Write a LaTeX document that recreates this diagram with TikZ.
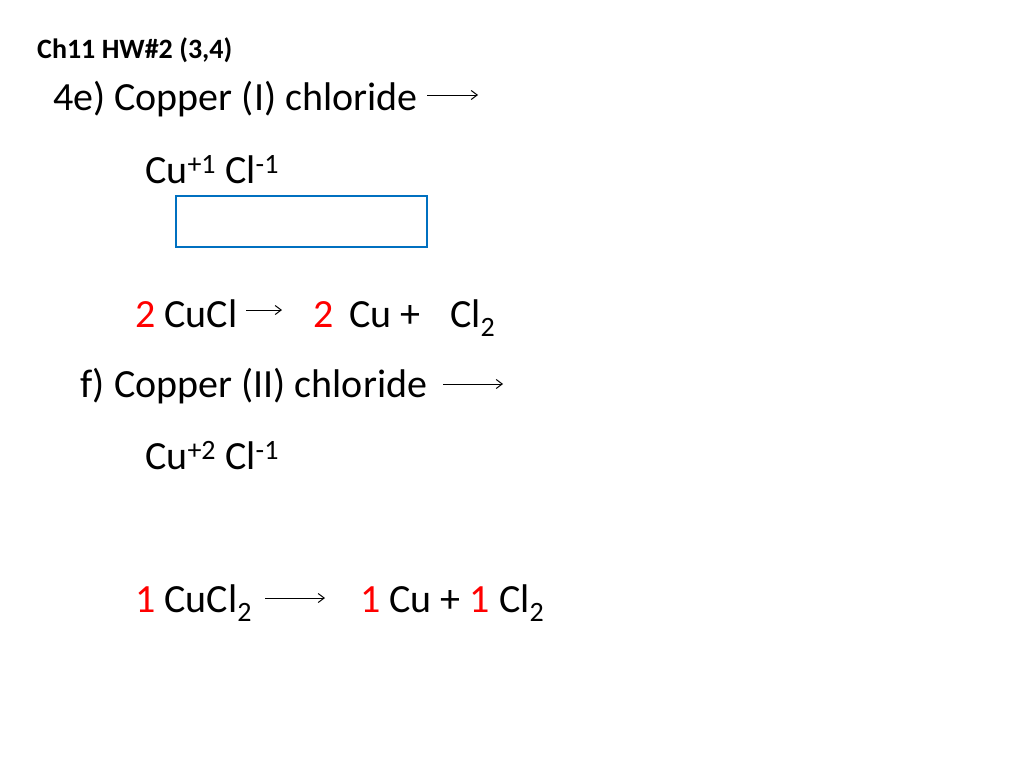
\documentclass[tikz,border=0pt]{standalone}
\usepackage{fontspec}
\setmainfont{Carlito}
\usetikzlibrary{arrows.meta}
\definecolor{myred}{RGB}{255,0,0}
\definecolor{myblue}{RGB}{0,112,192}
\begin{document}
\begin{tikzpicture}[x=1pt,y=-1pt,
  txt/.style={anchor=base west,inner sep=0pt,font=\fontsize{40}{46}\selectfont},
  arr/.style={-{Straight Barb[length=6pt,width=9pt]},line width=1pt}]
\useasboundingbox (0,0) rectangle (1024,768);
\node[anchor=base west,inner sep=0pt,font=\fontsize{28}{32}\selectfont\bfseries] (t) at (37,59) {Ch11 HW\#2 (3,4)};
\node[txt] (a) at (53,110) {4e) Copper (I) chloride};
\coordinate (a1) at (427,95); \coordinate (a2) at (478,95);
\draw[arr] (a1) -- (a2);
\node[txt] (b) at (145,183) {Cu\textsuperscript{+1} Cl\textsuperscript{-1}};
\draw[myblue,line width=2.5pt] (176,196) rectangle (427,247);
\node[txt] (c) at (135,327) {\textcolor{myred}{2} CuCl};
\coordinate (c1) at (246,310); \coordinate (c2) at (282,310);
\draw[arr] (c1) -- (c2);
\node[txt] (d) at (313,327) {\textcolor{myred}{2}\, Cu +};
\node[txt] (d2) at (450,327) {Cl\textsubscript{2}};
\node[txt] (e) at (80,397) {f) Copper (II) chloride};
\coordinate (e1) at (443,384); \coordinate (e2) at (503,384);
\draw[arr] (e1) -- (e2);
\node[txt] (f) at (145,469) {Cu\textsuperscript{+2} Cl\textsuperscript{-1}};
\node[txt] (g) at (135,612) {\textcolor{myred}{1} CuCl\textsubscript{2}};
\coordinate (g1) at (265,598); \coordinate (g2) at (325,598);
\draw[arr] (g1) -- (g2);
\node[txt] (h) at (360,612) {\textcolor{myred}{1} Cu + \textcolor{myred}{1} Cl\textsubscript{2}};
\end{tikzpicture}
\end{document}
